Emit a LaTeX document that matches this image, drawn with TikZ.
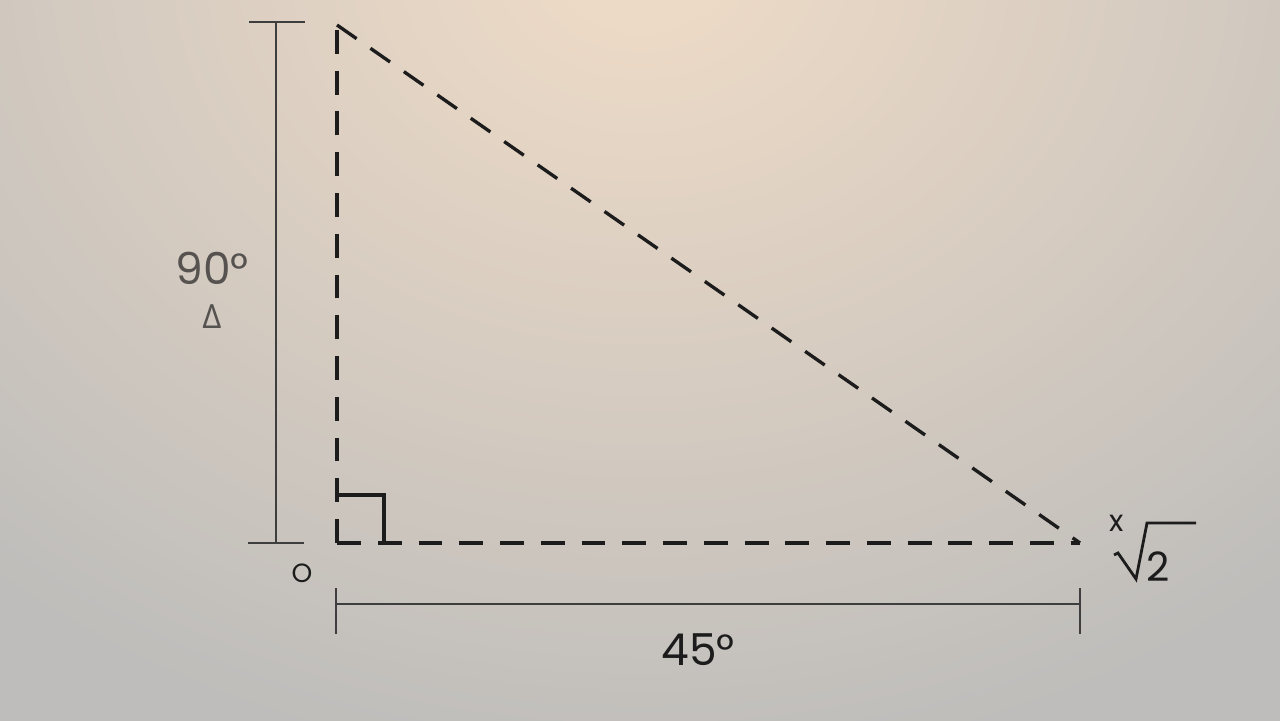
\documentclass[tikz,border=0pt]{standalone}
\usepackage{fontspec}
\setmainfont{Poppins}
\newfontfamily\greekfont{Open Sans}
\definecolor{bggray}{HTML}{BEBDBB}
\definecolor{glow}{HTML}{F0DCC7}
\definecolor{labelgray}{HTML}{555250}
\definecolor{inkdark}{HTML}{1C1C1C}
\begin{document}
\begin{tikzpicture}[x=0.02cm, y=-0.02cm,
    edge/.style={inkdark, line width=1.9pt, dash pattern=on 13.6pt off 9.6pt},
    dim/.style={draw=inkdark!85, line width=1.1pt},
    bigtext/.style={font=\fontsize{25}{30}\selectfont, inner sep=0pt},
    smalltext/.style={font=\fontsize{15}{18}\selectfont, inner sep=0pt, text=inkdark}]
    \useasboundingbox (0, 0) rectangle (1280, 720);

    % background
    \fill [bggray] (-10, -10) rectangle (1290, 730);
    \begin{scope}
        \clip (-10, -10) rectangle (1290, 730);
        \shade [inner color=glow, outer color=bggray] (640, -40) ellipse (1000 and 820);
    \end{scope}

    % triangle corners
    \coordinate (top) at (337, 25);
    \coordinate (origin) at (337, 543);
    \coordinate (right) at (1080, 543);

    % dashed sides
    \draw [edge] (origin) -- (top);
    \draw [edge] (top) -- (right);
    \draw [edge] (origin) -- (right);

    % right angle mark
    \draw [inkdark, line width=1.9pt] (337, 495) -- (384, 495) -- (384, 543);

    % height
    \coordinate (htop) at (276, 22);
    \coordinate (hbot) at (276, 543);
    \draw [dim] (htop) -- (hbot);
    \draw [dim] (htop) ++(-27, 0) -- ++(56, 0);
    \draw [dim] (hbot) ++(-28, 0) -- ++(56, 0);

    % base
    \coordinate (bleft) at (336, 604);
    \coordinate (bright) at (1080, 604);
    \draw [dim] (bleft) -- (bright);
    \draw [dim] (bleft) ++(0, -16) -- ++(0, 46);
    \draw [dim] (bright) ++(0, -16) -- ++(0, 46);

    % labels
    \node [bigtext, text=labelgray] (ninety) at (212, 268) {90°};
    \node [font=\greekfont\fontsize{19}{22}\selectfont, text=labelgray, inner sep=0pt] (delta) at (212, 317) {Δ};
    \node [smalltext] (olabel) at (302, 573) {O};
    \node [bigtext, text=inkdark] (fortyfive) at (698, 650) {45°};
    \node [font=\fontsize{17}{20}\selectfont, inner sep=0pt, text=inkdark] (xlabel) at (1117, 523) {x};
    \node [font=\fontsize{23}{26}\selectfont, inner sep=0pt, text=inkdark] (two) at (1158, 567) {2};
    \draw [inkdark, line width=1.6pt, line join=miter]
        (1114, 555) -- (1118, 553) -- (1136, 579) -- (1147, 523) -- (1196, 523);
\end{tikzpicture}
\end{document}
